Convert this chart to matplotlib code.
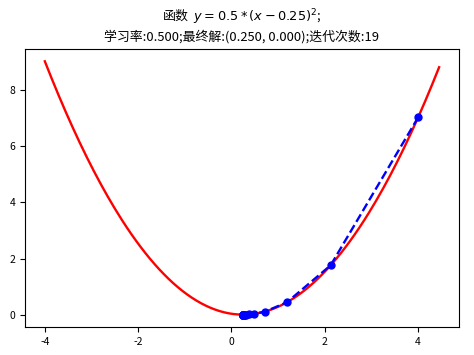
import numpy as np
import matplotlib
matplotlib.use("Agg")
import matplotlib.pyplot as plt

plt.rcParams['font.family'] = ['Noto Sans CJK SC', 'DejaVu Sans']
plt.rcParams['axes.unicode_minus'] = False

# curve y = 0.5*(x-0.25)^2 over x in [-4, 4.5)
curve_x = np.arange(-4, 4.5, 0.05)
curve_y = 0.5 * (curve_x - 0.25) ** 2

# gradient-descent path
path_x = [4.0, 2.125, 1.1875, 0.71875, 0.484375, 0.3671875, 0.30859375,
          0.279296875, 0.2646484375, 0.25732421875, 0.253662109375,
          0.2518310546875, 0.25091552734375, 0.250457763671875,
          0.2502288818359375, 0.25011444091796875, 0.2500572204589844,
          0.2500286102294922, 0.2500143051147461, 0.25000715255737305]
path_y = [0.5 * (v - 0.25) ** 2 for v in path_x]

lr = 0.5
final = (0.250, 0.000)
iters = 19

fig, ax = plt.subplots(figsize=(4.74, 3.55), dpi=100)
ax.plot(curve_x, curve_y, color='red', lw=1.7)
ax.plot(path_x, path_y, 'bo--', lw=1.7, ms=5)
ax.set_title(u"函数  $y=0.5*(x-0.25)^2$;\n学习率:%.3f;最终解:(%.3f, %.3f);迭代次数:%d"
             % (lr, final[0], final[1], iters), fontsize=9.3)
ax.tick_params(labelsize=7.5)
fig.subplots_adjust(left=0.053, right=0.968, top=0.863, bottom=0.078)
fig.savefig("out.png")
